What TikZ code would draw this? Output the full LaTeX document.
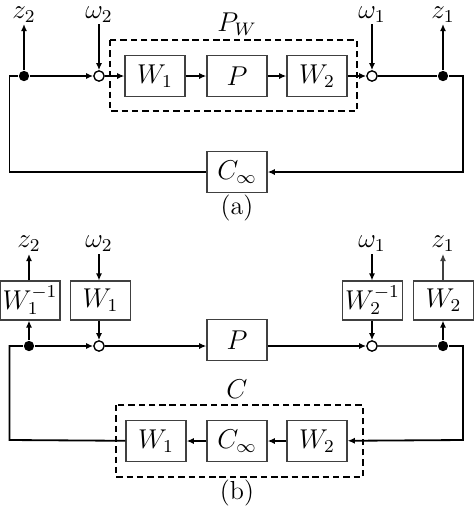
\documentclass[tikz,border=0pt]{standalone}
\usetikzlibrary{arrows.meta,positioning}

\begin{document}
\begin{tikzpicture}[x=0.155mm, y=-0.155mm, line width=0.8pt,
        every node/.style={font=\fontsize{11.5}{14}\selectfont},
        block/.style={draw=black!75, line width=0.6pt, minimum width=9.3mm, minimum height=6.3mm, inner sep=0pt},
        topblock/.style={block, minimum height=6mm},
        sumnode/.style={circle, draw, fill=white, line width=0.6pt, minimum size=1.6mm, inner sep=0pt},
        dotnode/.style={circle, fill, minimum size=1.6mm, inner sep=0pt},
        siglabel/.style={anchor=north, inner sep=0.5pt},
        sig/.style={-{Latex[length=1.1mm, width=0.95mm]}},
        grouping/.style={draw, line width=0.7pt, dash pattern=on 1mm off 0.6mm}]
        \useasboundingbox (0, 0) rectangle (474, 506);

        % (a)
        \draw[grouping] (110, 40) rectangle (357, 111);
        \node[dotnode] (az2) at (24, 76) {};
        \node[sumnode] (aw2) at (99, 76) {};
        \node[block] (aW1) at (155, 76) {$W_1$};
        \node[block] (aP) at (237, 76) {$P$};
        \node[block] (aW2) at (317, 76) {$W_2$};
        \node[sumnode] (aw1) at (372, 76) {};
        \node[dotnode] (az1) at (443, 76) {};
        \node[block] (aC) at (237, 172) {$C_\infty$};
        \node (aPW) at (237, 24) {$P_W$};
        \node (alab) at (237, 208) {(a)};
        \coordinate (aLT) at (9.5, 76);
        \coordinate (aLB) at (9.5, 172);
        \coordinate (aRT) at (463, 76);
        \coordinate (aRB) at (463, 172);
        \foreach \n/\x/\t in {az2top/24/z_2, aw2top/99/\omega_2, aw1top/372/\omega_1, az1top/443/z_1}
                \node[siglabel] (\n) at (\x, 5) {$\t$};
        \coordinate (az2end) at (24, 24);
        \coordinate (aw2beg) at (99, 24);
        \coordinate (aw1beg) at (372, 24);
        \coordinate (az1end) at (443, 24);

        \draw[sig] (az2) -- (az2end);
        \draw[sig] (az1) -- (az1end);
        \draw[sig] (aw2beg) -- (aw2);
        \draw[sig] (aw1beg) -- (aw1);
        \draw[sig] (az2) -- (aw2);
        \draw[sig] (aw2) -- (aW1);
        \draw[sig] (aW1) -- (aP);
        \draw[sig] (aP) -- (aW2);
        \draw[sig] (aW2) -- (aw1);
        \draw (aw1) -- (az1);
        \draw[sig] (az1) -- (aRT) -- (aRB) -- (aC);
        \draw (aC) -- (aLB) -- (aLT) -- (az2);

        % (b)
        \draw[grouping] (116, 405) rectangle (363, 477);
        \node[dotnode] (bz2) at (29, 346) {};
        \node[sumnode] (bw2) at (99, 346) {};
        \node[block] (bP) at (237, 340) {$P$};
        \node[sumnode] (bw1) at (372, 346) {};
        \node[dotnode] (bz1) at (443, 346) {};
        \node[topblock] (bW1i) at (30, 300.5) {$W_1^{-1}$};
        \node[topblock] (bW1) at (100.5, 300.5) {$W_1$};
        \node[topblock] (bW2i) at (372.5, 300.5) {$W_2^{-1}$};
        \node[topblock] (bW2) at (443.5, 300.5) {$W_2$};
        \node[block] (bW1b) at (156, 441) {$W_1$};
        \node[block] (bC) at (237, 441) {$C_\infty$};
        \node[block] (bW2b) at (317, 441) {$W_2$};
        \node (bClab) at (237, 389) {$C$};
        \node (blab) at (237, 493) {(b)};
        \coordinate (bLT) at (9.5, 346);
        \coordinate (bLB) at (9.5, 440);
        \coordinate (bRT) at (463, 346);
        \coordinate (bRB) at (463, 440);
        \foreach \n/\x/\t in {bz2top/29/z_2, bw2top/99/\omega_2, bw1top/372/\omega_1, bz1top/443/z_1}
                \node[siglabel] (\n) at (\x, 234) {$\t$};
        \coordinate (bz2end) at (29, 254);
        \coordinate (bw2beg) at (99, 254);
        \coordinate (bw1beg) at (372, 254);
        \coordinate (bz1end) at (443, 254);

        \draw[sig] (bz2) -- (bz2 |- bW1i.south);
        \draw[sig] (bz2 |- bW1i.north) -- (bz2end);
        \draw[sig] (bw2beg) -- (bw2beg |- bW1.north);
        \draw[sig] (bw2 |- bW1.south) -- (bw2);
        \draw[sig] (bw1beg) -- (bw1beg |- bW2i.north);
        \draw[sig] (bw1 |- bW2i.south) -- (bw1);
        \draw[sig] (bz1) -- (bz1 |- bW2.south);
        \draw[sig, line width=0.5pt, black!75] (bz1 |- bW2.north) -- (bz1end);
        \draw[sig] (bz2) -- (bw2);
        \draw[sig] (bw2) -- (bw2 -| bP.west);
        \draw[sig] (bw1 -| bP.east) -- (bw1);
        \draw[line width=0.5pt, black!75] (bw1) -- (bz1);
        \draw[sig] (bz1) -- (bRT) -- (bRB) -- (bW2b);
        \draw[sig] (bW2b) -- (bC);
        \draw[sig] (bC) -- (bW1b);
        \draw (bW1b) -- (bLB) -- (bLT) -- (bz2);
\end{tikzpicture}
\end{document}
